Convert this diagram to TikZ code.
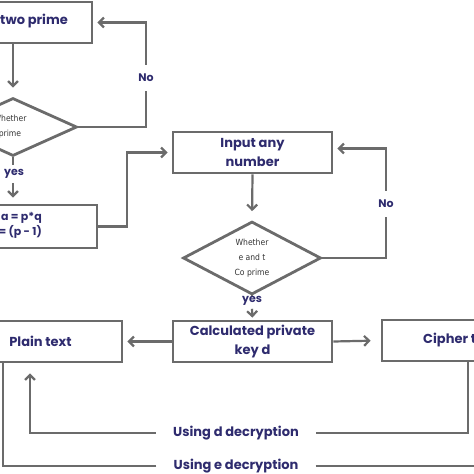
\documentclass[tikz,border=0pt]{standalone}
\usepackage{fontspec}
\setmainfont{Poppins}
\newfontfamily\condfont{DejaVu Sans Condensed}
\usetikzlibrary{shapes.geometric,arrows.meta}
\definecolor{linegray}{HTML}{6B6B6B}
\definecolor{textnavy}{HTML}{2E2B6E}

\begin{document}
\begin{tikzpicture}[x=1pt,y=-1pt,
    box/.style={draw=linegray, line width=2.8pt, inner sep=0pt, align=center,
        font=\bfseries\fontsize{13}{19}\selectfont, text=textnavy},
    boxtext/.style={inner sep=0pt, align=right, font=\bfseries\fontsize{13}{19}\selectfont, text=textnavy},
    test/.style={diamond, draw=linegray, line width=2.8pt, inner sep=0pt, align=center,
        font=\condfont\fontsize{8.5}{15}\selectfont, text=black!80},
    testtext/.style={inner sep=0pt, align=center, font=\condfont\fontsize{8.5}{15}\selectfont, text=black!80},
    link/.style={draw=linegray, line width=2.2pt},
    flow/.style={link, -{Straight Barb[length=5pt,width=10pt]}, shorten >=4pt},
    tag/.style={inner xsep=2pt, inner ysep=9pt, font=\bfseries\fontsize{11}{13}\selectfont, text=textnavy},
    path/.style={inner xsep=17pt, inner ysep=2pt, font=\bfseries\fontsize{13}{15}\selectfont, text=textnavy}]

    \useasboundingbox (0,0) rectangle (474,474);
    \clip (0,0) rectangle (474,474);

    % Primes
    \node[box, minimum width=152pt, minimum height=41pt] (primes) at (16,22.5) {};
    \node[boxtext, anchor=east] (primestxt) at (68,21) {two prime};
    \node[test, minimum width=128pt, minimum height=58pt] (isprime) at (13,127) {};
    \node[testtext] (isprimetxt) at (10,127) {Whether\\prime};
    \node[tag] (no1) at (146,78) {No};
    \node[tag, inner ysep=4pt] (yes1) at (14,174) {yes};
    \node[box, minimum width=157pt, minimum height=43pt] (modulus) at (18.5,226.5) {};
    \node[boxtext, anchor=east, font=\bfseries\fontsize{11}{15}\selectfont] (modulustxt) at (42,225) {a = p*q\\= (p - 1)};

    % Key
    \node[box, minimum width=159pt, minimum height=41pt] (input) at (252.5,152.5) {Input any\\number};
    \node[test, minimum width=138pt, minimum height=60pt] (coprime) at (252,258) {Whether\\e and t\\Co prime};
    \node[tag] (no2) at (386,204) {No};
    \node[tag, inner ysep=3pt] (yes2) at (252,301) {yes};
    \node[box, minimum width=159pt, minimum height=41pt] (calc) at (252.5,341.5) {Calculated private\\key d};

    % Texts
    \node[box, minimum width=142pt, minimum height=41pt] (plain) at (51,341.5) {};
    \node[boxtext] (plaintxt) at (40.5,341) {Plain text};
    \node[box, minimum width=148pt, minimum height=41pt] (cipher) at (456,340.5) {};
    \node[boxtext, anchor=west] (ciphertxt) at (423,340) {Cipher text};
    \node[path] (dec1) at (236,433) {Using d decryption};
    \node[path] (dec2) at (236,466) {Using e decryption};

    % Arrows
    \draw[flow, shorten >=9pt] (primes.south -| isprime.north) -- (isprime.north);
    \draw[link] (isprime.east) -| (no1.south);
    \draw[flow] (no1.north) |- (primes.east);
    \draw[link] (isprime.south) -- (yes1.north -| isprime.south);
    \draw[flow, shorten >=6pt] (yes1.south -| isprime.south) -- (modulus.north -| isprime.south);
    \draw[flow] (modulus.east) -- (127,226.5) |- (input.west);
    \draw[flow, shorten >=9pt] (input.south) -- (coprime.north);
    \draw[link] (coprime.east) -| (no2.south);
    \draw[flow] (no2.north) |- ([yshift=4pt]input.east);
    \draw[link] (coprime.south) -- (yes2.north);
    \draw[flow, shorten >=2pt] (yes2.south) -- (calc.north);
    \draw[flow] (calc.west) -- (plain.east);
    \draw[flow, shorten >=10pt] (calc.east) -- (cipher.west);
    \draw[link] ([xshift=12pt]cipher.south) |- (dec1.east);
    \draw[flow, shorten >=10pt] (dec1.west) -| ([xshift=-21pt]plain.south);
    \draw[link] (dec2.east) -| ([xshift=60pt]cipher.south);
    \draw[link] (dec2.west) -| ([xshift=-48pt]plain.south);
\end{tikzpicture}
\end{document}
